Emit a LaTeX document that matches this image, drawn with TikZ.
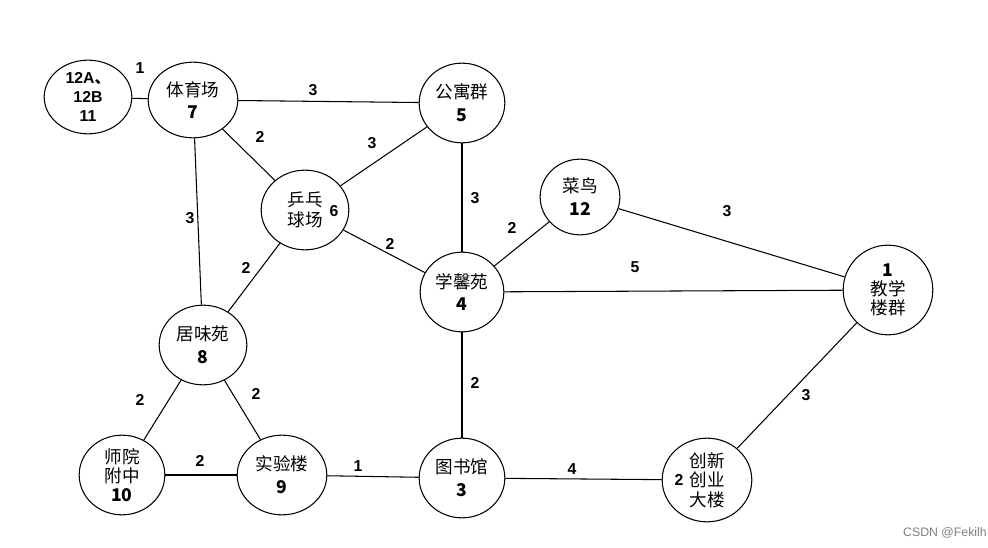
\documentclass[tikz,border=0pt]{standalone}
\usepackage{fontspec}
\setmainfont{Liberation Sans}
\newfontfamily\cjk{Noto Sans CJK SC}
\usetikzlibrary{shapes.geometric}
\begin{document}
\begin{tikzpicture}[x=0.02cm,y=-0.02cm,
  v/.style n args={2}{ellipse,draw,line width=0.6pt,fill=white,minimum width=#1*0.5669pt,minimum height=#2*0.5669pt,align=center,inner sep=0pt,font=\cjk\fontsize{10}{11}\selectfont},
  e/.style={line width=0.6pt},
  w/.style={font=\bfseries\fontsize{9}{10}\selectfont}]
\useasboundingbox (0,0) rectangle (988,548);
\node[v={88}{74},font=\bfseries\fontsize{9}{11}\selectfont] (a) at (88,97) {12A{\cjk 、}\\12B\\11};
\node[v={90}{76}] (ty) at (193,100) {体育场\\[2pt]\bfseries 7};
\node[v={86}{80}] (gy) at (462,103) {公寓群\\[2pt]\bfseries 5};
\node[v={88}{80}] (pp) at (305,210) {乒乓\\球场};
\node[w] (pp6) at (334,211) {6};
\node[v={80}{76}] (cn) at (580,197) {菜鸟\\[2pt]\bfseries 12};
\node[v={84}{80}] (xx) at (462,292) {学馨苑\\[2pt]\bfseries 4};
\node[v={90}{90}] (jx) at (888,290) {\bfseries 1\\教学\\楼群};
\node[v={88}{80}] (jw) at (203,345) {居味苑\\[2pt]\bfseries 8};
\node[v={86}{80}] (sy) at (122,475) {师院\\附中\\\bfseries 10};
\node[v={90}{80}] (sl) at (282,475) {实验楼\\[2pt]\bfseries 9};
\node[v={86}{80}] (ts) at (462,478) {图书馆\\[2pt]\bfseries 3};
\node[v={90}{84}] (cx) at (707,480) {创新\\创业\\大楼};
\node[w] (cx2) at (679,480) {2};
\draw[e] (a) -- (ty); \draw[e] (ty) -- (gy); \draw[e] (ty) -- (pp); \draw[e] (ty) -- (jw);
\draw[e] (gy) -- (pp); \draw[e] (gy) -- (xx); \draw[e] (pp) -- (xx); \draw[e] (pp) -- (jw);
\draw[e] (cn) -- (xx); \draw[e] (cn) -- (jx); \draw[e] (xx) -- (jx); \draw[e] (xx) -- (ts);
\draw[e] (jw) -- (sy); \draw[e] (jw) -- (sl); \draw[e] (sy) -- (sl); \draw[e] (sl) -- (ts);
\draw[e] (ts) -- (cx); \draw[e] (jx) -- (cx);
\node[w] (l1) at (140,68) {1}; \node[w] (l2) at (313,90) {3}; \node[w] (l3) at (260,137) {2};
\node[w] (l4) at (190,218) {3}; \node[w] (l5) at (372,143) {3}; \node[w] (l6) at (475,198) {3};
\node[w] (l7) at (390,244) {2}; \node[w] (l8) at (246,268) {2}; \node[w] (l9) at (512,228) {2};
\node[w] (l10) at (727,211) {3}; \node[w] (l11) at (635,267) {5}; \node[w] (l12) at (475,383) {2};
\node[w] (l13) at (140,400) {2}; \node[w] (l14) at (256,394) {2}; \node[w] (l15) at (200,461) {2};
\node[w] (l16) at (358,466) {1}; \node[w] (l17) at (572,469) {4}; \node[w] (l18) at (806,395) {3};
\node[font=\fontsize{7}{8}\selectfont,text=gray] (wm) at (945,533) {CSDN @Fekilh};
\end{tikzpicture}
\end{document}
